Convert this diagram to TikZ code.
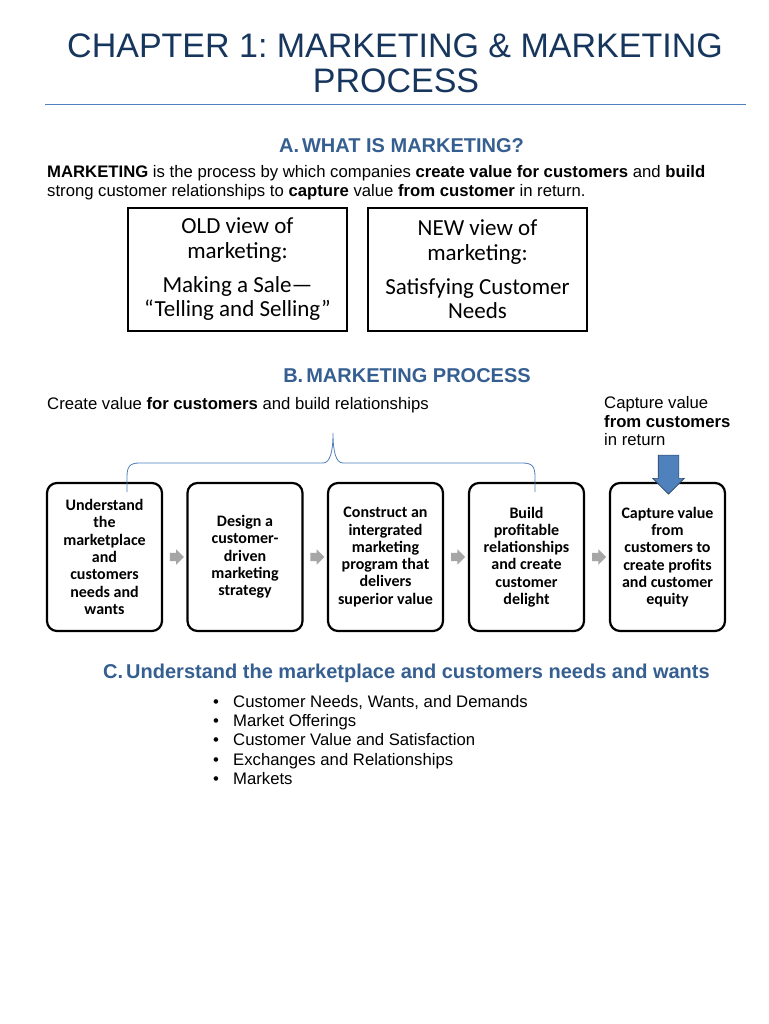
\documentclass[tikz,border=0pt]{standalone}
\usepackage{fontspec}
\setmainfont{Liberation Sans}
\newfontfamily\calfont{Carlito}
\usetikzlibrary{shapes.arrows,calc}
\definecolor{titleblue}{HTML}{17365D}
\definecolor{headblue}{HTML}{365F91}
\definecolor{ruleblue}{HTML}{4F81BD}
\definecolor{arrowgray}{HTML}{A6A6A6}
\frenchspacing
\tikzset{
  body/.style={inner sep=0pt, font=\fontsize{16.7}{18.7}\selectfont, anchor=base west},
  head/.style={inner sep=0pt, font=\fontsize{20}{22}\selectfont\bfseries, text=headblue, anchor=base},
  titletext/.style={inner sep=0pt, text=titleblue, font=\fontsize{34}{35}\selectfont, anchor=base},
  viewbox/.style={draw, line width=1.8pt, minimum width=219pt, minimum height=123pt, align=center, inner sep=0pt, font=\calfont\fontsize{23}{24.5}\selectfont},
  procbox/.style={draw, line width=2.2pt, rounded corners=10pt, minimum width=115pt, minimum height=148pt, align=center, inner sep=0pt, font=\calfont\bfseries\fontsize{16}{17.3}\selectfont},
  grayarrow/.style={single arrow, fill=arrowgray, draw=none, minimum height=14pt, minimum width=15pt, single arrow head extend=3.5pt, inner xsep=0pt, inner ysep=4pt},
  bluearrow/.style={single arrow, rotate=-90, fill=ruleblue, draw=ruleblue!55!black, line width=0.6pt, minimum height=39pt, minimum width=31pt, single arrow head extend=5.5pt, inner xsep=0pt, inner ysep=10pt},
  brace/.style={draw=ruleblue, line width=0.8pt}
}
\begin{document}
\begin{tikzpicture}[x=1pt,y=-1pt]
\useasboundingbox (0,0) rectangle (768,1024);
\fill[white] (0,0) rectangle (768,1024);
% title
\node[titletext] (title1) at (395,58) {CHAPTER 1: MARKETING \& MARKETING};
\node[titletext] (title2) at (396,93) {PROCESS};
\coordinate (rl) at (45,104.5);
\coordinate (rr) at (746,104.5);
\draw[ruleblue, line width=1pt] (rl) -- (rr);
% section A
\node[head] (hA) at (401.5,153) {A.\hspace{3pt}WHAT IS MARKETING?};
\node[body] (p1) at (47,178) {\textbf{MARKETING} is the process by which companies \textbf{create value for customers} and \textbf{build}};
\node[body] (p2) at (47,196.5) {strong customer relationships to \textbf{capture} value \textbf{from customer} in return.};
\node[viewbox] (old) at (237.5,269.5) {OLD view of\\marketing:\\[9.5pt]Making a Sale—\\“Telling and Selling”};
\node[viewbox] (new) at (477.5,269.5) {NEW view of\\marketing:\\[9.5pt]Satisfying Customer\\Needs};
% section B
\node[head] (hB) at (407,382) {B.\hspace{3pt}MARKETING PROCESS};
\node[body] (cv) at (47,409) {Create value \textbf{for customers} and build relationships};
\node[body, align=left, anchor=north west] (cap) at (604,396) {Capture value\\\textbf{from customers}\\in return};
% process boxes
\node[procbox] (b1) at (104.5,557) {Understand\\the\\marketplace\\and\\customers\\needs and\\wants};
\node[procbox] (b2) at (245,557) {Design a\\customer-\\driven\\marketing\\strategy};
\node[procbox] (b3) at (385.5,557) {Construct an\\intergrated\\marketing\\program that\\delivers\\superior value};
\node[procbox] (b4) at (526.5,557) {Build\\profitable\\relationships\\and create\\customer\\delight};
\node[procbox] (b5) at (667.5,557) {Capture value\\from\\customers to\\create profits\\and customer\\equity};
\node[grayarrow] (g1) at ($(b1.east)!0.5!(b2.west)$) {};
\node[grayarrow] (g2) at ($(b2.east)!0.5!(b3.west)$) {};
\node[grayarrow] (g3) at ($(b3.east)!0.5!(b4.west)$) {};
\node[grayarrow] (g4) at ($(b4.east)!0.5!(b5.west)$) {};
% brace
\coordinate (bl) at (127,492);
\coordinate (br) at (535,492);
\coordinate (bp) at (333,433);
\draw[brace] (bl) -- (127,477) .. controls (127,466) and (130,463) .. (140,463) -- (323,463) .. controls (330,463) and (333,452) .. (bp) .. controls (333,452) and (336,463) .. (343,463) -- (522,463) .. controls (532,463) and (535,466) .. (535,477) -- (br);
% blue arrow
\node[bluearrow] (ba) at (668.5,469.5) {};
% section C
\node[head] (hC) at (406.5,678) {C.\hspace{3pt}Understand the marketplace and customers needs and wants};
\node[body, anchor=north west, align=left, font=\fontsize{16.7}{19.25}\selectfont] (list) at (213,695) {%
\makebox[20pt][l]{\textbullet}Customer Needs, Wants, and Demands\\
\makebox[20pt][l]{\textbullet}Market Offerings\\
\makebox[20pt][l]{\textbullet}Customer Value and Satisfaction\\
\makebox[20pt][l]{\textbullet}Exchanges and Relationships\\
\makebox[20pt][l]{\textbullet}Markets};
\end{tikzpicture}
\end{document}
